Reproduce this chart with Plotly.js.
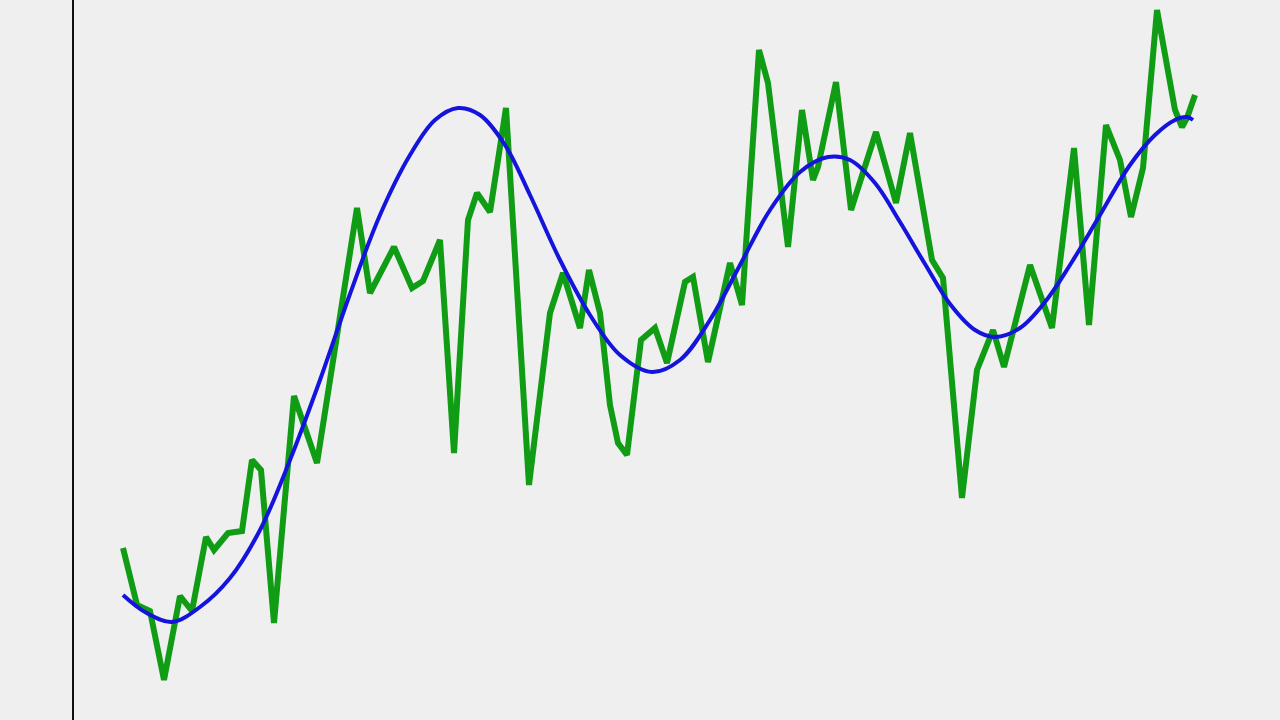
<!DOCTYPE html>
<html>
<head>
<meta charset="utf-8">
<script src="https://cdn.plot.ly/plotly-3.0.1.min.js"></script>
<style>
  html, body { margin: 0; padding: 0; background: #efefef; }
  #chart { width: 1280px; height: 720px; }
</style>
</head>
<body>
<div id="chart"></div>
<script>
// Noisy series (green)
const noisyX = [5.0, 6.4, 7.7, 9.1, 10.7, 11.9, 13.3, 14.1, 15.5, 16.9, 17.9, 18.8, 20.1, 22.1, 24.4,
  28.4, 29.7, 32.1, 33.9, 35.0, 36.7, 38.1, 39.5, 40.4, 41.7, 43.3, 45.6, 47.7, 49.0, 50.7,
  51.6, 52.7, 53.7, 54.5, 55.4, 56.8, 58.2, 59.4, 61.2, 62.0, 63.5, 65.7, 66.9, 68.6, 69.5,
  71.5, 72.9, 74.0, 74.5, 76.3, 77.8, 80.3, 82.3, 83.7, 85.9, 87.0, 88.9, 90.4, 92.0, 93.1,
  95.7, 97.9, 100.1, 101.6, 103.3, 104.7, 105.8, 107.0, 108.4, 109.1, 110.2, 110.9, 111.4, 112.2];
const noisyY = [17.2, 11.5, 10.9, 4.0, 12.4, 10.9, 18.3, 17.0, 18.7, 18.9, 26.0, 25.0, 9.7, 32.4, 25.7,
  51.2, 42.7, 47.3, 43.2, 43.9, 48.0, 26.7, 50.0, 52.7, 50.8, 61.2, 23.5, 40.7, 44.7, 39.2,
  45.0, 40.7, 31.5, 27.7, 26.5, 38.0, 39.2, 35.7, 43.8, 44.3, 35.8, 45.7, 41.5, 67.0, 63.7,
  47.3, 61.0, 54.0, 55.3, 63.8, 51.0, 58.8, 51.7, 58.7, 46.0, 44.2, 22.2, 35.0, 39.0, 35.3,
  45.5, 39.2, 57.2, 39.5, 59.5, 56.0, 50.3, 55.2, 71.0, 67.0, 61.0, 59.3, 60.2, 62.5];

// Smooth trend (blue)
const trendX = [5.0, 7.2, 9.9, 12.7, 15.7, 18.7, 21.7, 24.7, 27.7, 30.7, 33.7, 36.2, 38.5, 40.7, 43.2,
  45.7, 48.7, 51.7, 54.7, 57.9, 60.7, 63.7, 66.7, 69.7, 72.7, 75.5, 77.7, 80.2, 82.7, 85.2,
  87.7, 90.2, 92.2, 94.7, 97.2, 99.7, 102.7, 105.7, 108.2, 110.2, 111.4, 112.0];
const trendY = [12.5, 10.8, 9.8, 11.3, 14.2, 19.0, 26.0, 34.0, 42.6, 50.5, 56.5, 60.0, 61.2, 60.5, 57.5,
  52.5, 46.0, 40.5, 36.5, 34.8, 36.0, 40.0, 45.5, 51.0, 54.8, 56.3, 56.0, 53.7, 49.8, 45.6,
  41.6, 39.0, 38.3, 39.2, 41.8, 45.5, 50.5, 55.5, 58.5, 60.0, 60.3, 60.0];

const traces = [
  { x: noisyX, y: noisyY, type: 'scatter', mode: 'lines',
    line: { color: '#109c14', width: 6 }, hoverinfo: 'skip' },
  { x: trendX, y: trendY, type: 'scatter', mode: 'lines',
    line: { color: '#1414dc', width: 4, shape: 'spline', smoothing: 1 }, hoverinfo: 'skip' }
];

const layout = {
  width: 1280, height: 720,
  margin: { l: 74, r: 0, t: 0, b: 0, pad: 0 },
  paper_bgcolor: '#efefef', plot_bgcolor: '#efefef',
  showlegend: false,
  xaxis: { range: [0.1, 120.7], showgrid: false, zeroline: false, showline: false,
           showticklabels: false, ticks: '' },
  yaxis: { range: [0, 72], showgrid: false, zeroline: false, showline: true,
           linecolor: '#111111', linewidth: 2, showticklabels: false, ticks: '' }
};

Plotly.newPlot('chart', traces, layout, { staticPlot: true, displayModeBar: false });
</script>
</body>
</html>
